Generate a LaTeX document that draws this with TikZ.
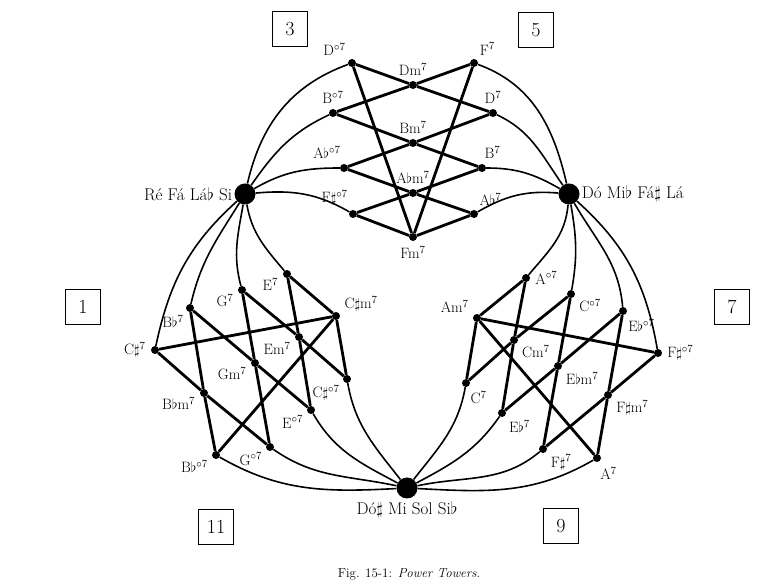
\documentclass[tikz,border=0pt]{standalone}
\usetikzlibrary{positioning}

\begin{document}
\begin{tikzpicture}[x=1pt,y=1pt,
hub/.style={circle,fill=black,inner sep=0pt,minimum size=21pt},
chord/.style={circle,fill=black,inner sep=0pt,minimum size=8pt},
every label/.style={font=\fontsize{15}{18}\selectfont,inner sep=1pt},
label distance=4pt,
hublabel/.style={label distance=1pt,font=\fontsize{17}{20}\selectfont},
tower/.style={line width=2.8pt},
link/.style={line width=1.6pt},
region/.style={draw,line width=0.8pt,minimum size=35pt,inner sep=0pt,font=\fontsize{20}{22}\selectfont}]
\useasboundingbox (0,0) rectangle (771,586);
% the three hubs
\node[hub,label={[hublabel]left:Ré Fá Lá$\flat$ Si}] (hubl) at (245,392) {};
\node[hub,label={[hublabel]right:Dó Mi$\flat$ Fá$\sharp$ Lá}] (hubr) at (569,392) {};
\node[hub,label={[hublabel,label distance=2pt]below:Dó$\sharp$ Mi Sol Si$\flat$}] (hubb) at (407,98) {};
% upper tower
\node[chord,label=130:D$^{\circ7}$] (ddim) at (352,523) {};
\node[chord,label=90:Dm$^7$] (dmin) at (413,501) {};
\node[chord,label=55:F$^7$] (fdom) at (474,523) {};
\node[chord,label=90:B$^{\circ7}$] (bdim) at (333,473) {};
\node[chord,label=90:D$^7$] (ddom) at (493,473) {};
\node[chord,label=90:Bm$^7$] (bmin) at (413,443) {};
\node[chord,label=105:A$\flat^{\circ7}$] (abdim) at (344,418) {};
\node[chord,label=80:B$^7$] (bdom) at (482,418) {};
\node[chord,label=90:A$\flat$m$^7$] (abmin) at (413,393) {};
\node[chord,label=120:F$\sharp^{\circ7}$] (fsdim) at (353,372) {};
\node[chord,label=58:A$\flat^7$] (abdom) at (474,372) {};
\node[chord,label=270:Fm$^7$] (fmin) at (413,349) {};
% left tower
\node[chord,label=200:E$^7$] (edom) at (287,312) {};
\node[chord,label=205:G$^7$] (gdom) at (242,296) {};
\node[chord,label=230:B$\flat^7$] (bbdom) at (190,278) {};
\node[chord,label=180:C$\sharp^7$] (csdom) at (155,236) {};
\node[chord,label=25:C$\sharp$m$^7$] (csmin) at (336,270) {};
\node[chord,label=210:Em$^7$] (emin) at (299,249) {};
\node[chord,label=205:Gm$^7$] (gmin) at (255,223) {};
\node[chord,label=200:B$\flat$m$^7$] (bbmin) at (204,193) {};
\node[chord,label=220:C$\sharp^{\circ7}$] (csdim) at (347,207) {};
\node[chord,label=215:E$^{\circ7}$] (edim) at (311,176) {};
\node[chord,label=215:G$^{\circ7}$] (gdim) at (270,139) {};
\node[chord,label=212:B$\flat^{\circ7}$] (bbdim) at (216,131) {};
% right tower
\node[chord,label=0:A$^{\circ7}$] (adim) at (526,308) {};
\node[chord,label=-30:C$^{\circ7}$] (cdim) at (571,292) {};
\node[chord,label=-60:E$\flat^{\circ7}$] (ebdim) at (623,275) {};
\node[chord,label=0:F$\sharp^{\circ7}$] (fsdimr) at (658,233) {};
\node[chord,label=150:Am$^7$] (amin) at (477,268) {};
\node[chord,label=-33:Cm$^7$] (cmin) at (514,246) {};
\node[chord,label=-36:E$\flat$m$^7$] (ebmin) at (558,220) {};
\node[chord,label=-30:F$\sharp$m$^7$] (fsmin) at (608,191) {};
\node[chord,label=-65:C$^7$] (cdom) at (466,203) {};
\node[chord,label=-45:E$\flat^7$] (ebdom) at (502,173) {};
\node[chord,label=-35:F$\sharp^7$] (fsdom) at (543,137) {};
\node[chord,label=-75:A$^7$] (adom) at (597,128) {};
% region numbers
\node[region] (r3) at (290,557) {3};
\node[region] (r5) at (536,556) {5};
\node[region] (r1) at (83,279) {1};
\node[region] (r7) at (732,279) {7};
\node[region] (r11) at (216,59) {11};
\node[region] (r9) at (561,60) {9};
\node[font=\fontsize{13}{15}\selectfont] (cap) at (409,12) {Fig. 15-1: \textit{Power Towers}.};
% each minor chord to its four neighbours
\foreach \m/\a/\b/\c/\d in {dmin/ddim/bdim/fdom/ddom,bmin/bdim/abdim/ddom/bdom,
abmin/abdim/fsdim/bdom/abdom,fmin/fsdim/ddim/abdom/fdom,
bbmin/bbdom/bbdim/csdom/gdim,gmin/gdom/gdim/bbdom/edim,
emin/edom/edim/gdom/csdim,csmin/csdom/csdim/edom/bbdim,
amin/adim/adom/cdom/fsdimr,cmin/cdim/cdom/adim/ebdom,
ebmin/ebdim/ebdom/cdim/fsdom,fsmin/fsdimr/fsdom/ebdim/adom}{
\draw[tower] (\m)--(\a) (\m)--(\b) (\m)--(\c) (\m)--(\d);}
% hubs to the towers
\foreach \a/\b/\o/\i in {hubl/ddim/77/200,hubl/bdim/55/205,hubl/abdim/30/180,hubl/fsdim/5/150,
hubl/csdom/-138/78,hubl/bbdom/-122/77,hubl/gdom/-100/105,hubl/edom/-80/130,
hubr/fdom/103/-20,hubr/ddom/125/-25,hubr/bdom/150/0,hubr/abdom/175/30,
hubr/adim/-95/50,hubr/cdim/-80/80,hubr/ebdim/-60/95,hubr/fsdimr/-42/100,
hubb/bbdim/183/-30,hubb/gdim/168/-35,hubb/edim/152/-60,hubb/csdim/128/-80,
hubb/cdom/52/-100,hubb/ebdom/28/-125,hubb/fsdom/12/-140,hubb/adom/-3/-150}{
\draw[link] (\a) to[out=\o,in=\i] (\b);}
\end{tikzpicture}
\end{document}
